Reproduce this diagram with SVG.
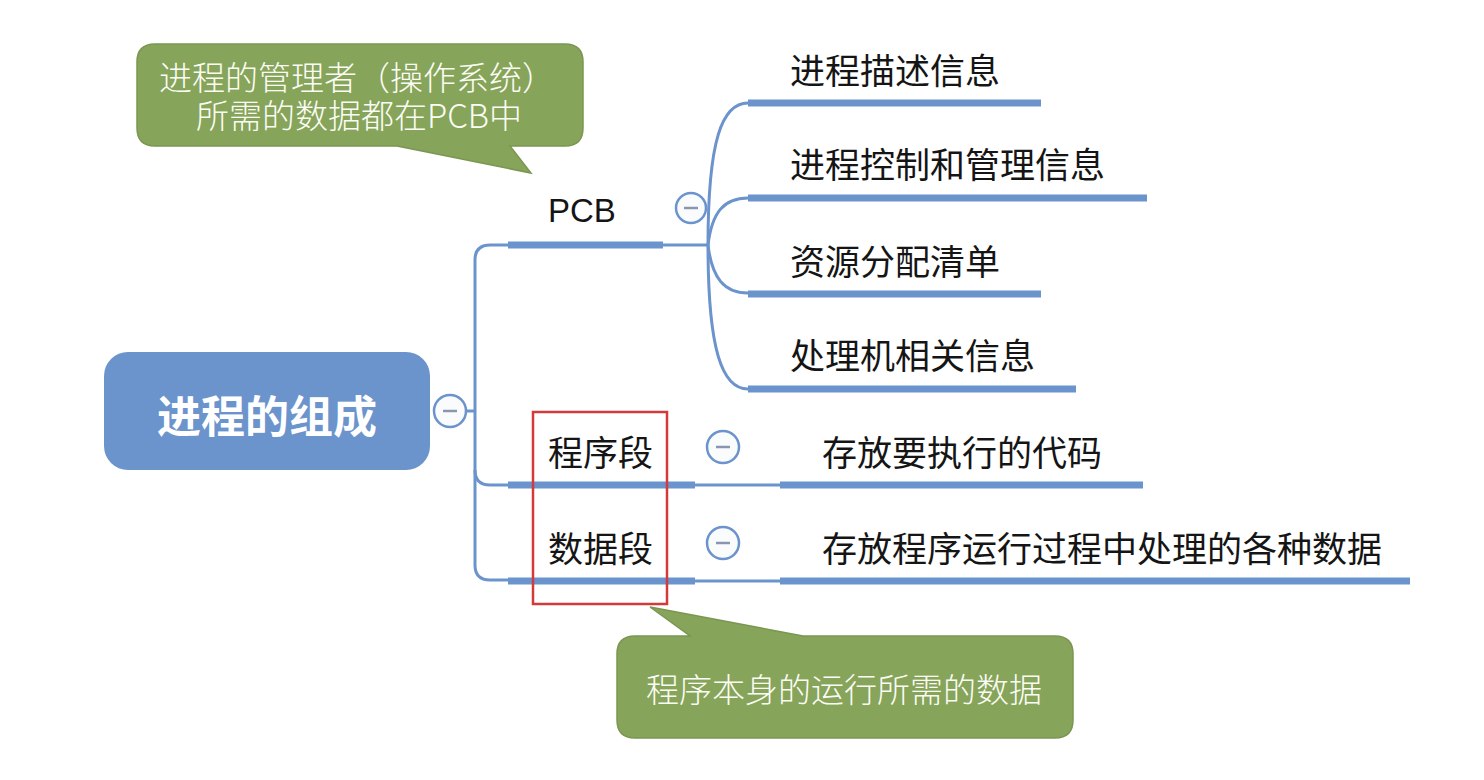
<svg xmlns="http://www.w3.org/2000/svg" width="1484" height="780" viewBox="0 0 1484 780">
<style>
.t{font-family:"Noto Sans CJK SC","Liberation Sans",sans-serif;fill:#151515;font-size:35px;dominant-baseline:central}
.c{font-family:"Noto Sans CJK SC","Liberation Sans",sans-serif;fill:#fbfdf5;font-size:33px;font-weight:300;dominant-baseline:central;text-anchor:middle}
.bar{stroke:#6b93cc;stroke-width:7;fill:none}
.ln{stroke:#6b93cc;stroke-width:3;fill:none}
.tog{fill:#fafbfd;stroke:#6b93cc;stroke-width:2.5}
.tm{stroke:#8a96b0;stroke-width:2.5}
.call{fill:#87a45b;stroke:#7a9650;stroke-width:1.5}
</style>
<rect width="1484" height="780" fill="#ffffff"/>
<g id="connectors">
<path class="ln" d="M466,411 H475"/>
<path class="ln" d="M508,245 H490 Q475,245 475,260 V565 Q475,580 490,580 H508"/>
<path class="ln" d="M475,470 Q475,485 490,485 H508"/>
<path class="ln" d="M663,245 H708"/>
<path class="ln" d="M708,245 C708,140 722,103 748,103"/>
<path class="ln" d="M708,245 C712,212 724,198 748,198"/>
<path class="ln" d="M708,245 C712,278 724,293 748,293"/>
<path class="ln" d="M708,245 C708,350 722,389 748,389"/>
<path class="ln" d="M695,485 H780"/>
<path class="ln" d="M695,581 H780"/>
</g>
<g id="root">
<rect x="104" y="352" width="326" height="118" rx="24" fill="#6b93cc"/>
<text x="267" y="414" font-family="Noto Sans CJK SC,sans-serif" font-size="44" font-weight="bold" fill="#ffffff" text-anchor="middle" dominant-baseline="central">进程的组成</text>
<circle class="tog" cx="450" cy="411" r="16"/><path class="tm" d="M443,411 H457"/>
</g>
<g id="pcb">
<path class="bar" d="M508,245 H663"/>
<text x="548" y="222" font-family="Liberation Sans,sans-serif" font-size="33" fill="#151515">PCB</text>
<circle class="tog" cx="691" cy="208" r="15"/><path class="tm" d="M684,208 H698"/>
</g>
<g id="pcb1"><path class="bar" d="M748,103 H1041"/><text class="t" x="790" y="68">进程描述信息</text></g>
<g id="pcb2"><path class="bar" d="M748,198 H1147"/><text class="t" x="790" y="162">进程控制和管理信息</text></g>
<g id="pcb3"><path class="bar" d="M748,294 H1041"/><text class="t" x="790" y="259">资源分配清单</text></g>
<g id="pcb4"><path class="bar" d="M748,389 H1076"/><text class="t" x="790" y="353">处理机相关信息</text></g>
<g id="code">
<path class="bar" d="M508,485 H695"/>
<text class="t" x="548" y="450">程序段</text>
<circle class="tog" cx="723" cy="447" r="16"/><path class="tm" d="M716,447 H730"/>
</g>
<g id="codeinfo"><path class="bar" d="M780,485 H1143"/><text class="t" x="822" y="450">存放要执行的代码</text></g>
<g id="data">
<path class="bar" d="M508,581 H695"/>
<text class="t" x="548" y="546">数据段</text>
<circle class="tog" cx="723" cy="543" r="16"/><path class="tm" d="M716,543 H730"/>
</g>
<g id="datainfo"><path class="bar" d="M780,581 H1410"/><text class="t" x="822" y="546">存放程序运行过程中处理的各种数据</text></g>
<g id="highlight"><rect x="533" y="412" width="134" height="192" fill="none" stroke="#d33b3b" stroke-width="2.5"/></g>
<g id="callout1">
<path class="call" d="M155,44 H565 Q583,44 583,62 V128 Q583,146 565,146 H510 L531,173 L397,146 H155 Q137,146 137,128 V62 Q137,44 155,44 Z"/>
<text class="c"><tspan x="357" y="76">进程的管理者（操作系统）</tspan><tspan x="359" y="114">所需的数据都在PCB中</tspan></text>
</g>
<g id="callout2">
<path class="call" d="M635,636 H690 L650,607 L803,636 H1055 Q1073,636 1073,654 V720 Q1073,738 1055,738 H635 Q617,738 617,720 V654 Q617,636 635,636 Z"/>
<text class="c" x="844" y="688" font-size="33.5">程序本身的运行所需的数据</text>
</g>
</svg>
